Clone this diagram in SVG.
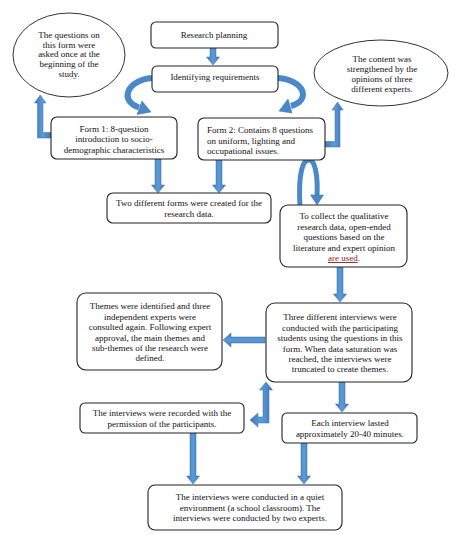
<svg xmlns="http://www.w3.org/2000/svg" width="474" height="535" viewBox="0 0 474 535">
<defs>
<linearGradient id="gv" x1="0" y1="0" x2="1" y2="0">
<stop offset="0" stop-color="#3f78b8"/><stop offset="0.5" stop-color="#5b9bd8"/><stop offset="1" stop-color="#3f78b8"/>
</linearGradient>
<linearGradient id="gh" x1="0" y1="0" x2="0" y2="1">
<stop offset="0" stop-color="#3f78b8"/><stop offset="0.5" stop-color="#5b9bd8"/><stop offset="1" stop-color="#3f78b8"/>
</linearGradient>
</defs>
<style>
.box{fill:#fff;stroke:#222;stroke-width:1.1}
.ell{fill:#fff;stroke:#333;stroke-width:1}
text{font-family:"Liberation Serif","Times New Roman",serif;font-size:9px;fill:#111}
.c{text-anchor:middle}
.av{fill:url(#gv);stroke:#3a6ea5;stroke-width:0.5}
.ah{fill:url(#gh);stroke:#3a6ea5;stroke-width:0.5}
.curve{fill:none;stroke:#4a88c9;stroke-linecap:butt}
.head{fill:#4a88c9;stroke:#3a6ea5;stroke-width:0.5}
.red{fill:#8b1a1a}
</style>
<rect width="474" height="535" fill="#fff"/>

<g id="connectors">
<polygon class="av" points="210,48 216,48 216,57 219.5,57 213,65 206.5,57 210,57"/>
<path class="curve" stroke-width="6" d="M152,78 C128,80 118,100 139,107.5"/>
<polygon class="head" points="151,112 137,114.5 142,101"/>
<path class="curve" stroke-width="6" d="M278,78 C304,80 312,100 291,106"/>
<polygon class="head" points="279,111 292,113 288,99"/>
<polygon class="av" points="51,132.5 43,132.5 43,103 46,103 40.25,95 34.5,103 37.5,103 37.5,138 51,138"/>
<polygon class="av" points="325,141.5 335,141.5 335,110 332,110 337.5,102 343,110 340,110 340,147 325,147"/>
<polygon class="av" points="155,159 161,159 161,185 164.5,185 158,193 151.5,185 155,185"/>
<polygon class="av" points="216,160 222,160 222,185 225.5,185 219,193 212.5,185 216,185"/>
<path class="curve" stroke-width="5" d="M300,207 C298,172 303,160 309,160 C315,160 318,175 317,196"/>
<polygon class="head" points="310.5,195 323.5,195 317,205"/>
<polygon class="av" points="337,267 343,267 343,294 346.5,294 340,302 333.5,294 337,294"/>
<polygon class="ah" points="265,337 265,343 231,343 231,347 223,340 231,333 231,337"/>
<polygon class="av" points="339,382 345,382 345,404 348.5,404 342,412 335.5,404 339,404"/>
<polygon class="av" points="266,382 272.5,390 269,390 269,423 258,423 258,427 250,420 258,413 258,417 263,417 263,390 259.5,390"/>
<polygon class="av" points="190,433 196,433 196,476 199.5,476 193,484 186.5,476 190,476"/>
<polygon class="av" points="301,443 307,443 307,476 310.5,476 304,484 297.5,476 301,476"/>
</g>

<g id="n-research-planning">
<rect class="box" x="151" y="22" width="127" height="26" rx="5"/>
<text class="c" x="214" y="38">Research planning</text>
</g>
<g id="n-identifying">
<rect class="box" x="152" y="66" width="126" height="26" rx="5"/>
<text class="c" x="215" y="80">Identifying requirements</text>
</g>
<g id="n-ellipse-left">
<ellipse class="ell" cx="69" cy="55" rx="56" ry="42"/>
<text class="c" x="69" y="38">The questions on</text>
<text class="c" x="69" y="47.7">this form were</text>
<text class="c" x="69" y="57.4">asked once at the</text>
<text class="c" x="69" y="67.1">beginning of the</text>
<text class="c" x="69" y="76.8">study.</text>
</g>
<g id="n-ellipse-right">
<ellipse class="ell" cx="381" cy="73" rx="67" ry="33"/>
<text class="c" x="382" y="62">The content was</text>
<text class="c" x="382" y="72">strengthened by the</text>
<text class="c" x="382" y="82">opinions of three</text>
<text class="c" x="382" y="92">different experts.</text>
</g>
<g id="n-form1">
<rect class="box" x="51" y="117" width="126" height="42" rx="6"/>
<text class="c" x="114" y="131.5">Form 1: 8-question</text>
<text class="c" x="114" y="142">introduction to socio-</text>
<text class="c" x="114" y="152.5">demographic characteristics</text>
</g>
<g id="n-form2">
<rect class="box" x="198" y="118" width="127" height="42" rx="6"/>
<text x="207" y="133">Form 2: Contains 8 questions</text>
<text x="207" y="143.5">on uniform, lighting and</text>
<text x="207" y="154">occupational issues.</text>
</g>
<g id="n-two-forms">
<rect class="box" x="107" y="193" width="164" height="30" rx="6"/>
<text class="c" x="189" y="206">Two different forms were created for the</text>
<text class="c" x="189" y="217">research data.</text>
</g>
<g id="n-to-collect">
<rect class="box" x="280" y="205" width="127" height="62" rx="8"/>
<text class="c" x="344" y="219">To collect the qualitative</text>
<text class="c" x="344" y="229.5">research data, open-ended</text>
<text class="c" x="344" y="240">questions based on the</text>
<text class="c" x="344" y="250.5">literature and expert opinion</text>
<text class="c" x="344" y="261"><tspan class="red" text-decoration="underline">are used</tspan>.</text>
</g>
<g id="n-three-interviews">
<rect class="box" x="266" y="303" width="146" height="79" rx="9"/>
<text class="c" x="340" y="320">Three different interviews were</text>
<text class="c" x="340" y="330.5">conducted with the participating</text>
<text class="c" x="340" y="341">students using the questions in this</text>
<text class="c" x="340" y="351.5">form. When data saturation was</text>
<text class="c" x="340" y="362">reached, the interviews were</text>
<text class="c" x="340" y="372">truncated to create themes.</text>
</g>
<g id="n-themes">
<rect class="box" x="77" y="293" width="145" height="77" rx="9"/>
<text class="c" x="150" y="309">Themes were identified and three</text>
<text class="c" x="150" y="319.5">independent experts were</text>
<text class="c" x="150" y="330">consulted again. Following expert</text>
<text class="c" x="150" y="340.5">approval, the main themes and</text>
<text class="c" x="150" y="351">sub-themes of the research were</text>
<text class="c" x="150" y="361">defined.</text>
</g>
<g id="n-recorded">
<rect class="box" x="80" y="403" width="164" height="30" rx="5"/>
<text class="c" x="162" y="416">The interviews were recorded with the</text>
<text class="c" x="162" y="427">permission of the participants.</text>
</g>
<g id="n-each-interview">
<rect class="box" x="282" y="413" width="135" height="30" rx="5"/>
<text class="c" x="350" y="426">Each interview lasted</text>
<text class="c" x="350" y="437">approximately 20-40 minutes.</text>
</g>
<g id="n-final">
<rect class="box" x="148" y="485" width="194" height="45" rx="7"/>
<text class="c" x="250" y="500">The interviews were conducted in a quiet</text>
<text class="c" x="250" y="510.5">environment (a school classroom). The</text>
<text class="c" x="250" y="521">interviews were conducted by two experts.</text>
</g>
</svg>
